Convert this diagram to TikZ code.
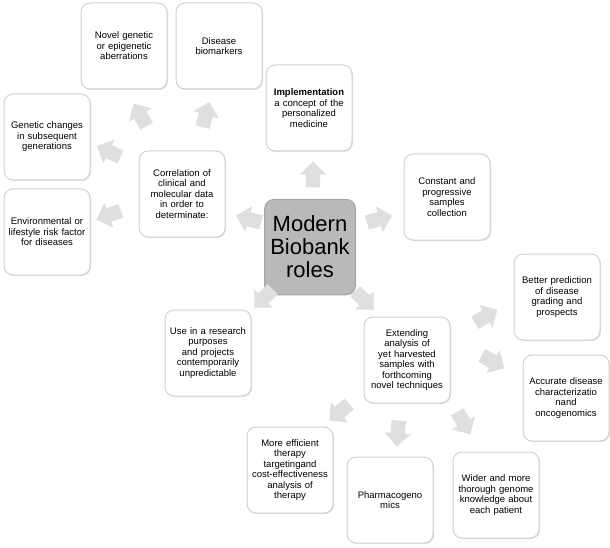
\documentclass[tikz,border=0pt]{standalone}
\usepackage{fontspec}
\setmainfont{Liberation Sans}
\usetikzlibrary{shapes.arrows,shadows}
\begin{document}
\begin{tikzpicture}[x=1pt,y=-1pt,
 box/.style={draw=gray!35,fill=white,rounded corners=9pt,line width=1pt,minimum width=86pt,minimum height=86pt,text width=78pt,align=center,font=\fontsize{9.5}{10.5}\selectfont,execute at begin node={\hyphenpenalty=10000\exhyphenpenalty=10000},drop shadow={shadow xshift=1pt,shadow yshift=-1pt,opacity=0.25}},
 barr/.style={single arrow,fill=gray!25,draw=none,minimum height=26pt,inner sep=7pt,single arrow head extend=6pt}]
\useasboundingbox (0,0) rectangle (610,548);
\node[box,fill=gray!55,draw=gray!70,minimum width=84pt,minimum height=95pt,text width=84pt,font=\fontsize{22}{23}\selectfont] (c) at (310,247) {Modern Biobank roles};
\node[box] (corr) at (182,194) {Correlation of clinical and molecular data in order to determinate:};
\node[box] (impl) at (309,108) {\textbf{Implementation} a concept of the personalized medicine};
\node[box] (const) at (447,197) {Constant and progressive samples collection};
\node[box] (use) at (208,353) {Use in a research purposes and projects contemporarily unpredictable};
\node[box] (ext) at (407,360) {Extending analysis of yet harvested samples with forthcoming novel techniques};
\node[box] (novel) at (124,46) {Novel genetic or epigenetic aberrations};
\node[box] (bio) at (219,46) {Disease biomarkers};
\node[box] (gen) at (47,137) {Genetic changes in subsequent generations};
\node[box] (env) at (47,232) {Environmental or lifestyle risk factor for diseases};
\node[box] (better) at (557,297) {Better prediction of disease grading and prospects};
\node[box] (acc) at (566,398) {Accurate disease characterizatio nand oncogenomics};
\node[box] (wider) at (496,495) {Wider and more thorough genome knowledge about each patient};
\node[box] (pharm) at (390,500) {Pharmacogeno mics};
\node[box] (eff) at (290,470) {More efficient therapy targetingand cost-effectiveness analysis of therapy};
\node[barr,rotate=90] (a1) at (313,178) {};
\node[barr,rotate=165] (a2) at (252,220) {};
\node[barr,rotate=15] (a3) at (376,220) {};
\node[barr,rotate=225] (a4) at (266,296) {};
\node[barr,rotate=-45] (a5) at (362,298) {};
\node[barr,rotate=120] (a6) at (142,118) {};
\node[barr,rotate=75] (a7) at (205,118) {};
\node[barr,rotate=155] (a8) at (112,153) {};
\node[barr,rotate=200] (a9) at (112,214) {};
\node[barr,rotate=30] (a10) at (483,318) {};
\node[barr,rotate=-30] (a11) at (490,360) {};
\node[barr,rotate=-60] (a12) at (462,420) {};
\node[barr,rotate=-95] (a13) at (398,430) {};
\node[barr,rotate=-140] (a14) at (342,410) {};
\end{tikzpicture}
\end{document}
